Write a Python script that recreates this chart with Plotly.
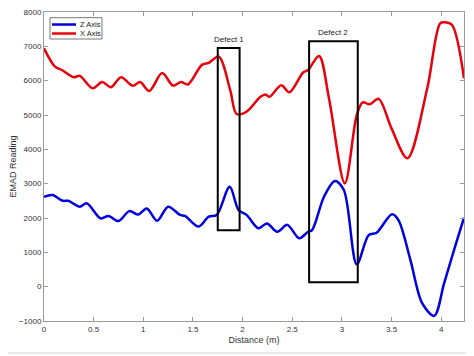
import plotly.graph_objects as go

# Z axis (blue) readings
z_dist = [0.0, 0.085, 0.19, 0.245, 0.36, 0.43, 0.57, 0.65, 0.75, 0.86, 0.95, 1.035, 1.14, 1.25,
          1.37, 1.42, 1.555, 1.66, 1.74, 1.87, 1.96, 2.04, 2.16, 2.245, 2.35, 2.45, 2.57, 2.66,
          2.70, 2.82, 2.93, 3.02, 3.15, 3.27, 3.35, 3.505, 3.57, 3.69, 3.81, 3.93, 4.03, 4.13, 4.23]
z_vals = [2620, 2670, 2500, 2500, 2330, 2430, 1990, 2060, 1910, 2200, 2100, 2280, 1920, 2330,
          2090, 2060, 1750, 2040, 2090, 2910, 2230, 2090, 1700, 1840, 1600, 1800, 1410, 1600,
          1650, 2620, 3080, 2815, 650, 1500, 1570, 2110, 1940, 780, -490, -850, 100, 1070, 2010]

# X axis (red) readings
x_dist = [0.0, 0.11, 0.18, 0.30, 0.36, 0.49, 0.585, 0.675, 0.776, 0.894, 0.968, 1.06, 1.19, 1.30,
          1.38, 1.45, 1.59, 1.66, 1.76, 1.875, 1.94, 2.04, 2.18, 2.23, 2.27, 2.39, 2.47, 2.61,
          2.66, 2.77, 2.87, 3.03, 3.15, 3.21, 3.28, 3.37, 3.50, 3.66, 3.86, 3.99, 4.04, 4.11, 4.23]
x_vals = [6940, 6410, 6310, 6100, 6140, 5780, 5960, 5810, 6100, 5850, 5960, 5700, 6220, 5855,
          5960, 5890, 6460, 6520, 6700, 5730, 5030, 5095, 5530, 5600, 5530, 5870, 5660, 6240,
          6310, 6720, 5490, 3010, 5000, 5370, 5310, 5470, 4610, 3740, 5780, 7670, 7700, 7620, 6070]

# Defect regions
defect_labels = ["Defect 1", "Defect 2"]
defect_x0 = [1.75, 2.67]
defect_x1 = [1.97, 3.16]
defect_y0 = [1640, 130]
defect_y1 = [6950, 7150]

series_names = ["Z Axis", "X Axis"]
series_colors = ["#0000e0", "#e8000b"]

FONT = "Liberation Sans, Arial, Helvetica"

fig = go.Figure()
fig.add_trace(go.Scatter(x=z_dist, y=z_vals, mode="lines", name=series_names[0],
                         line=dict(color=series_colors[0], width=2.5, shape="spline", smoothing=0.9)))
fig.add_trace(go.Scatter(x=x_dist, y=x_vals, mode="lines", name=series_names[1],
                         line=dict(color=series_colors[1], width=2.5, shape="spline", smoothing=0.9)))

for lab, a, b, c, d in zip(defect_labels, defect_x0, defect_x1, defect_y0, defect_y1):
    fig.add_shape(type="rect", x0=a, x1=b, y0=c, y1=d, xref="x", yref="y",
                  line=dict(color="black", width=2))
    fig.add_annotation(x=(a + b) / 2, y=d, text=lab, showarrow=False, xref="x", yref="y",
                       yanchor="bottom", yshift=2,
                       font=dict(family=FONT, size=8, color="#222"))

# Compact MATLAB-style legend box (top-left, inside axes)
fig.add_shape(type="rect", xref="paper", yref="paper", x0=0.0143, x1=0.138, y0=0.9126, y1=0.9816,
              line=dict(color="#777", width=1), fillcolor="white", layer="above")
for i, (nm, col) in enumerate(zip(series_names, series_colors)):
    yy = 0.9595 - i * 0.0291
    fig.add_shape(type="line", xref="paper", yref="paper", x0=0.019, x1=0.0762, y0=yy, y1=yy,
                  line=dict(color=col, width=2.5), layer="above")
    fig.add_annotation(xref="paper", yref="paper", x=0.0815, y=yy, text=nm, showarrow=False,
                       xanchor="left", yanchor="middle", font=dict(family=FONT, size=7.5, color="#222"))

# faint bottom frame line seen in the reference image
fig.add_shape(type="line", xref="paper", yref="paper", x0=-0.2, x1=1.021, y0=-0.1036, y1=-0.1036,
              line=dict(color="#d4d4d4", width=1))

axis_common = dict(showline=True, linecolor="#9a9a9a", linewidth=1, mirror="ticks",
                   ticks="inside", ticklen=4, tickcolor="#9a9a9a", showgrid=False,
                   zeroline=False, automargin=False, ticklabeloverflow="allow",
                   tickfont=dict(family=FONT, size=8, color="#333"))

# page body has an 8px offset, so the figure is sized to fit the window
fig.update_layout(
    width=466, height=348,
    margin=dict(l=36, r=10, t=4, b=35),
    paper_bgcolor="white", plot_bgcolor="white",
    showlegend=False,
    xaxis=dict(range=[0, 4.23], tickvals=[0, 0.5, 1, 1.5, 2, 2.5, 3, 3.5, 4],
               ticktext=["0", "0.5", "1", "1.5", "2", "2.5", "3", "3.5", "4"],
               title=dict(text="Distance (m)", font=dict(family=FONT, size=9, color="#333"), standoff=4),
               **axis_common),
    yaxis=dict(range=[-1000, 8000], tickvals=list(range(-1000, 8001, 1000)),
               title=dict(text="EMAD Reading", font=dict(family=FONT, size=9, color="#333"), standoff=6),
               **axis_common),
)

fig.write_html("out.html")
